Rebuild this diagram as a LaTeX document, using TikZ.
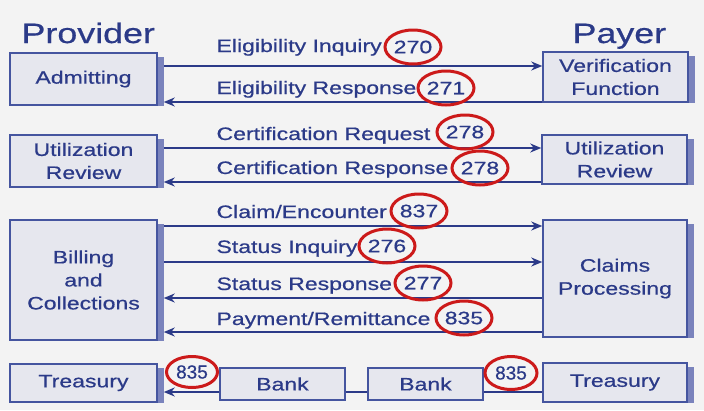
\documentclass[tikz,border=0pt]{standalone}
\usepackage{fontspec}
\setmainfont[FakeStretch=1.28,FakeBold=0.6]{Liberation Sans}
\newfontfamily\plainsans[FakeBold=0.6]{Liberation Sans}
\usetikzlibrary{arrows.meta,shapes.geometric}
\definecolor{navy}{HTML}{2B3A88}
\definecolor{rim}{HTML}{45559F}
\definecolor{shadowblue}{HTML}{7A83BC}
\definecolor{boxfill}{HTML}{E6E7EE}
\definecolor{paper}{HTML}{F3F3F3}
\definecolor{ring}{HTML}{CC1A1A}
\begin{document}
\begin{tikzpicture}[x=1pt,y=-1pt,
    every node/.style={text=navy, font=\fontsize{18}{23}\selectfont},
    unit/.style={draw=rim, fill=boxfill, line width=1.5pt, align=center, inner sep=0pt},
    msg/.style={draw=navy, line width=1.8pt},
    fwd/.style={msg, -{Stealth[length=11pt,width=9pt,inset=3.5pt]}},
    bwd/.style={msg, {Stealth[length=11pt,width=9pt,inset=3.5pt]}-},
    code/.style={ellipse, draw=ring, line width=3pt, inner sep=0pt, minimum width=56pt, minimum height=34pt}
  ]
        % background
        \fill[paper] (0,0) rectangle (704,410);
        \useasboundingbox (0,0) rectangle (704,410);

        % titles
        \node[anchor=base west, font=\fontsize{28}{30}\selectfont] (prov) at (18,43) {Provider};
        \node[anchor=base west, font=\fontsize{28}{30}\selectfont] (pay) at (569,43) {Payer};

        % provider boxes
        \node[unit, minimum width=147pt, minimum height=52pt] (admL) at (83.5,79) {Admitting};
        \node[unit, minimum width=147pt, minimum height=52pt] (urL) at (83.5,161) {Utilization\\Review};
        \node[unit, minimum width=147pt, minimum height=120pt] (bilL) at (83.5,280) {Billing\\and\\Collections};
        \node[unit, minimum width=147pt, minimum height=38pt] (trL) at (83.5,383) {Treasury};

        % payer boxes
        \node[unit, minimum width=145pt, minimum height=50pt] (verR) at (615.5,77) {Verification\\Function};
        \node[unit, minimum width=145pt, minimum height=49pt] (urR) at (614.5,159.5) {Utilization\\Review};
        \node[unit, minimum width=144pt, minimum height=117pt] (clmR) at (615,278.5) {Claims\\Processing};
        \node[unit, minimum width=144pt, minimum height=39pt] (trR) at (615,382.5) {Treasury};

        % banks
        \node[unit, minimum width=125pt, minimum height=32pt] (bank1) at (282.5,384) {Bank};
        \node[unit, minimum width=115pt, minimum height=32pt] (bank2) at (425.5,384) {Bank};

        % shadows
        \foreach \b in {admL,urL,bilL,trL,verR,urR,clmR,trR}
            \fill[shadowblue] ([yshift=-5pt]\b.north east) rectangle ([xshift=6pt]\b.south east);

        % rows
        \coordinate (r1) at (0,66);
        \coordinate (r2) at (0,102);
        \coordinate (r3) at (0,148);
        \coordinate (r4) at (0,182);
        \coordinate (r5) at (0,226);
        \coordinate (r6) at (0,262);
        \coordinate (r7) at (0,298);
        \coordinate (r8) at (0,332);
        \coordinate (rb) at (0,392);

        % eligibility
        \draw[fwd] ([xshift=6pt]admL.east |- r1) -- (verR.west |- r1);
        \draw[bwd] ([xshift=6pt]admL.east |- r2) -- (verR.west |- r2);
        \node[anchor=base west] (elq) at (213,52) {Eligibility Inquiry};
        \node[anchor=base west] (elr) at (213,94) {Eligibility Response};
        \node[code] (c270) at (413,47) {270};
        \node[code] (c271) at (446,88) {271};

        % certification
        \draw[fwd] ([xshift=6pt]urL.east |- r3) -- (urR.west |- r3);
        \draw[bwd] ([xshift=6pt]urL.east |- r4) -- (urR.west |- r4);
        \node[anchor=base west] (crq) at (213,140) {Certification Request};
        \node[anchor=base west] (crs) at (213,174) {Certification Response};
        \node[code] (c278a) at (465,132) {278};
        \node[code] (c278b) at (480,168) {278};

        % claims
        \draw[fwd] ([xshift=6pt]bilL.east |- r5) -- (clmR.west |- r5);
        \draw[fwd] ([xshift=6pt]bilL.east |- r6) -- (clmR.west |- r6);
        \draw[bwd] ([xshift=6pt]bilL.east |- r7) -- (clmR.west |- r7);
        \draw[bwd] ([xshift=6pt]bilL.east |- r8) -- (clmR.west |- r8);
        \node[anchor=base west] (cle) at (213,218) {Claim/Encounter};
        \node[anchor=base west] (sti) at (213,253) {Status Inquiry};
        \node[anchor=base west] (str) at (213,290) {Status Response};
        \node[anchor=base west] (pmt) at (213,325) {Payment/Remittance};
        \node[code] (c837) at (419,211) {837};
        \node[code] (c276) at (387,246) {276};
        \node[code] (c277) at (423,283) {277};
        \node[code] (c835) at (464,318) {835};

        % treasury chain
        \draw[bwd] ([xshift=6pt]trL.east |- rb) -- (bank1.west |- rb);
        \draw[msg] (bank1.east |- rb) -- (bank2.west |- rb);
        \draw[msg] (bank2.east |- rb) -- (trR.west |- rb);
        \node[code, font=\plainsans\fontsize{19}{20}\selectfont, minimum width=51pt, minimum height=31pt] (t835a) at (192,372) {835};
        \node[code, font=\plainsans\fontsize{19}{20}\selectfont, minimum width=52pt, minimum height=33pt] (t835b) at (511,373) {835};
\end{tikzpicture}
\end{document}
